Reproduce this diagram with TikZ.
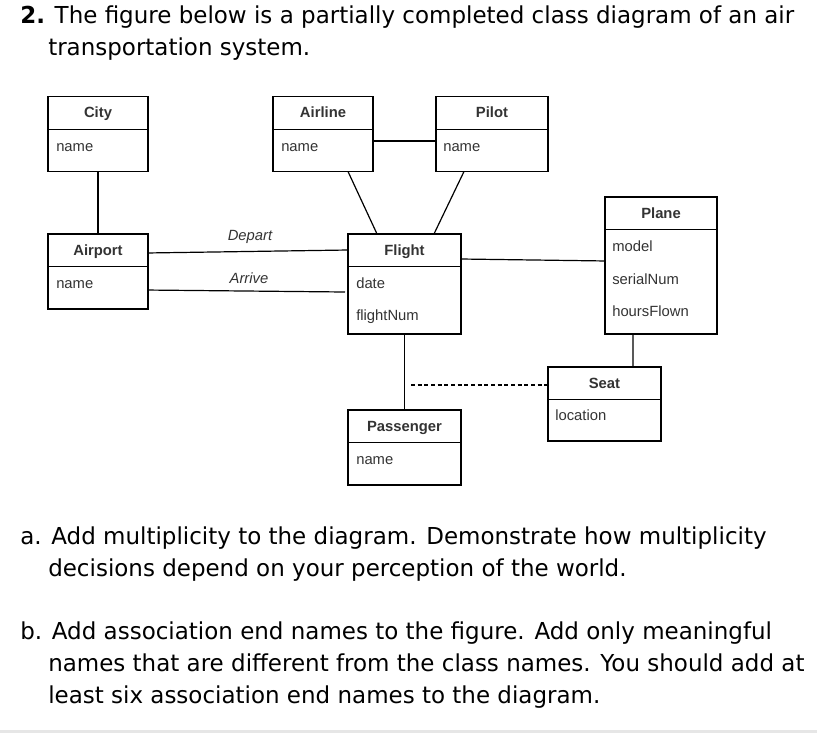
\documentclass[tikz,border=0pt]{standalone}
\usepackage{fontspec}
\setmainfont{DejaVu Sans}[FakeStretch=0.985]
\newfontfamily\umlfont{Liberation Sans}
\definecolor{umltext}{HTML}{333333}
\definecolor{rulegray}{HTML}{E6E6E6}

\begin{document}
\begin{tikzpicture}[x=0.75pt,y=0.75pt,yscale=-1,xscale=1,
  cls/.style={draw, line width=0.9pt, inner sep=0, outer sep=0},
  hdr/.style={draw, line width=0.9pt, anchor=north, inner sep=0, outer sep=0, minimum height=24.5pt, text height=7.6pt, text depth=0pt, text=umltext, font=\umlfont\bfseries\fontsize{11.1}{13}\selectfont},
  attr/.style={anchor=base west, inner sep=0, text=umltext, font=\umlfont\fontsize{11.1}{13}\selectfont},
  rolelbl/.style={anchor=base, inner sep=0, text=umltext, font=\umlfont\itshape\fontsize{11.1}{13}\selectfont},
  assoc/.style={line width=0.9pt},
  txt/.style={anchor=base west, inner sep=0, font=\fontsize{17.5}{21}\selectfont}]
\useasboundingbox (0,0) rectangle (817,733);

% Question text
\node[txt] (title1) at (20,23) {\textbf{2.} The figure below is a partially completed class diagram of an air};
\node[txt] (title2) at (48,55) {transportation system.};

%Class: City
\node[cls, minimum width=75pt, minimum height=56.25pt] (city) at (98,134) {};
\node[hdr, minimum width=75pt] (cityh) at (city.north) {City};
\node[attr] (cityname) at (56,151) {name};
%Class: Airline
\node[cls, minimum width=75pt, minimum height=56.25pt] (airline) at (323,134) {};
\node[hdr, minimum width=75pt] (airlineh) at (airline.north) {Airline};
\node[attr] (airlinename) at (281,151) {name};
%Class: Pilot
\node[cls, minimum width=84pt, minimum height=56.25pt] (pilot) at (492,134) {};
\node[hdr, minimum width=84pt] (piloth) at (pilot.north) {Pilot};
\node[attr] (pilotname) at (443,151) {name};
%Class: Airport
\node[cls, minimum width=75pt, minimum height=56.25pt] (airport) at (98,271.5) {};
\node[hdr, minimum width=75pt] (airporth) at (airport.north) {Airport};
\node[attr] (airportname) at (56,288.3) {name};
%Class: Flight
\node[cls, minimum width=84.75pt, minimum height=75pt] (flight) at (404.5,284) {};
\node[hdr, minimum width=84.75pt] (flighth) at (flight.north) {Flight};
\node[attr] (flightdate) at (356,288.3) {date};
\node[attr] (flightnum) at (356,320) {flightNum};
%Class: Plane
\node[cls, minimum width=84pt, minimum height=102.75pt] (plane) at (661,265.5) {};
\node[hdr, minimum width=84pt] (planeh) at (plane.north) {Plane};
\node[attr] (planemodel) at (612,251.7) {model};
\node[attr] (planeserial) at (612,284) {serialNum};
\node[attr] (planehours) at (612,316) {hoursFlown};
%Class: Seat
\node[cls, minimum width=84.75pt, minimum height=55.5pt] (seat) at (604.5,404) {};
\node[hdr, minimum width=84.75pt] (seath) at (seat.north) {Seat};
\node[attr] (seatloc) at (555,420.5) {location};
%Class: Passenger
\node[cls, minimum width=84.75pt, minimum height=56.25pt] (passenger) at (404.5,447.5) {};
\node[hdr, minimum width=84.75pt] (passengerh) at (passenger.north) {Passenger};
\node[attr] (passengername) at (356,464) {name};

%Associations
\draw[assoc] (city.south) -- (airport.north);
\draw[assoc] ([yshift=5.25pt]airline.east) -- ([yshift=5.25pt]pilot.west);
\draw[assoc] ([xshift=18.75pt]airline.south) -- ([xshift=-20.6pt]flight.north);
\draw[assoc] ([xshift=-21pt]pilot.south) -- ([xshift=22.1pt]flight.north);
\draw[assoc] ([yshift=-13.9pt]airport.east) -- ([yshift=-25.5pt]flight.west);
\draw[assoc] ([yshift=13.9pt]airport.east) -- ([xshift=-2.25pt,yshift=6pt]flight.west);
\draw[assoc] ([yshift=-18.75pt]flight.east) -- ([yshift=-3.4pt]plane.west);
\draw[assoc] ([xshift=-21pt]plane.south) -- ([xshift=21.4pt]seat.north);
\draw[assoc] (flight.south) -- (passenger.north);
%Association class link
\coordinate (ticket) at (411,385);
\draw[assoc, dashed, dash pattern=on 3pt off 2pt] (ticket) -- ([yshift=-14.25pt]seat.west);

% Role labels
\node[rolelbl] (depart) at (250,240) {Depart};
\node[rolelbl] (arrive) at (249,283.3) {Arrive};

% Question text
\node[txt] (qa1) at (20,544) {a. Add multiplicity to the diagram. Demonstrate how multiplicity};
\node[txt] (qa2) at (48,576) {decisions depend on your perception of the world.};
\node[txt] (qb1) at (20,639) {b. Add association end names to the figure. Add only meaningful};
\node[txt] (qb2) at (48,671) {names that are different from the class names. You should add at};
\node[txt] (qb3) at (48,703) {least six association end names to the diagram.};

\fill[rulegray] (0,730) rectangle (817,732.5);
\end{tikzpicture}
\end{document}
